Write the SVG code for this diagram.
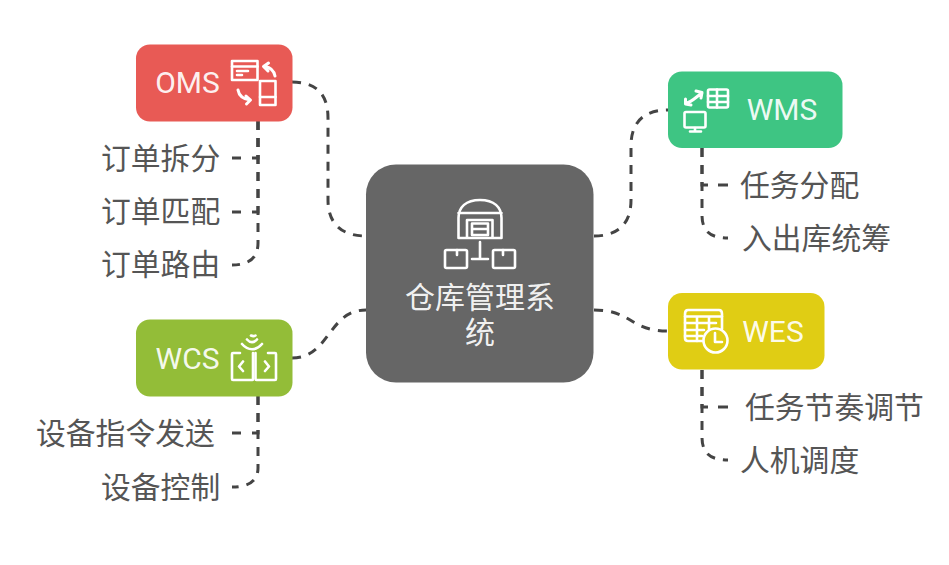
<svg xmlns="http://www.w3.org/2000/svg" width="949" height="565" viewBox="0 0 949 565">
<style>
.c{fill:none;stroke:#444;stroke-width:3;stroke-dasharray:9 8}
.i{fill:none;stroke:#fff;stroke-width:2.600;stroke-linejoin:round;stroke-linecap:round}
.t{font-family:"Noto Sans CJK SC","Noto Sans",sans-serif;font-size:29.800px;fill:#555}
.w{font-family:Roboto,"Noto Sans CJK SC",sans-serif;font-size:30px;fill:#fff;fill-opacity:.93;text-anchor:middle}
</style>
<rect width="949" height="565" fill="#fff"/>
<g id="connectors">
<path class="c" d="M292 82C316 82 328 94 328 118V200C328 224 342 236 366 236"/>
<path class="c" style="stroke-dasharray:9 8 9 8 9 11 9" d="M258 121V158H232"/>
<path class="c" style="stroke-dasharray:9 8 9 8 9 8 9 8 9 8 12 11 9" d="M258 121V212H232"/>
<path class="c" d="M258 121V243C258 257 250 265 232 265"/>
<path class="c" d="M594 236C618 236 631 224 631 200V146C631 122 644 110 668 110"/>
<path class="c" style="stroke-dasharray:9 8 9 8 9 10 10" d="M702 148V185H728"/>
<path class="c" d="M702 148V215C702 231 710 238 728 238"/>
<path class="c" d="M594 310C632 310 630 331 668 331"/>
<path class="c" style="stroke-dasharray:9 8 9 8 9 10 10" d="M702 370V407H728"/>
<path class="c" d="M702 370V437C702 453 710 460 728 460"/>
<path class="c" d="M292 358C330 358 328 310 366 310"/>
<path class="c" style="stroke-dasharray:9 8 9 8 9 11 9" d="M258 396V433H232"/>
<path class="c" d="M258 396V468C258 480 250 487 232 487"/>
</g>
<g id="center">
<rect x="366" y="164.500" width="227.500" height="218" rx="30" fill="#666"/>
<g class="i">
<path d="M458.500 238V218C458.500 207 466 200 480 200C494 200 501.500 207 501.500 218V238ZM458.500 213H501.500M467 238V220H492.500V238M472 223.500H488V235H472ZM472 229H488"/>
<rect x="445" y="250" width="22" height="18" rx="1.500"/><rect x="493" y="250" width="22" height="18" rx="1.500"/>
<path d="M457 250V255M503 250V255M480 242V259M472 259H488"/>
</g>
<text class="w" x="480" y="308">仓库管理系</text>
<text class="w" x="480" y="343">统</text>
</g>
<g id="oms">
<rect x="136" y="44.500" width="156.500" height="77" rx="14" fill="#e85a55"/>
<text class="w" x="187.500" y="93">OMS</text>
<g class="i">
<rect x="232" y="61" width="25.500" height="19"/>
<path d="M232 66.500H257.500M237 71H248M237 75H242"/>
<rect x="260" y="81" width="15.500" height="24"/>
<path d="M260 97H275.500"/>
<path d="M275 76C274 71 271 67.500 265 66.500M268.500 63L263.500 66.500L268 71" stroke-width="3"/>
<path d="M238 90C239 96 243 99 250 100M246 96L250.500 100L246.500 104" stroke-width="3"/>
</g>
</g>
<g id="wms">
<rect x="668" y="71.500" width="174.500" height="76.500" rx="14" fill="#3ec583"/>
<text class="w" x="782" y="119.500">WMS</text>
<g class="i">
<rect x="708" y="89.500" width="20" height="18" rx="1.500"/>
<path d="M708 96H728M708 102H728M717 89.500V107.500"/>
<rect x="684.500" y="112" width="21" height="15.500" rx="1.500"/>
<path d="M695 128V131M690 131.500H701"/>
<path d="M686 103C691 103 697 96 702 93M685.500 99L685.500 104L691 105M696 91L702 92.500L701 98" stroke-width="3"/>
</g>
</g>
<g id="wes">
<rect x="668" y="293" width="156.500" height="76.500" rx="14" fill="#e0cd14"/>
<text class="w" x="773" y="341.500">WES</text>
<g class="i">
<path d="M704 341H688C686 341 685 340 685 338V314C685 312 686 310 688 310H719C721 310 722 312 722 314V329"/>
<path d="M685 316.500H722M685 323H716M685 330H704M685 336H702M697 317V341M709 317V330"/>
<circle cx="715.500" cy="340.500" r="12" fill="#e0cd14"/>
<path d="M715 333V342H722"/>
</g>
</g>
<g id="wcs">
<rect x="136" y="319.500" width="156.500" height="77" rx="14" fill="#93bd38"/>
<text class="w" x="187.500" y="368.500">WCS</text>
<g class="i">
<path d="M240 353H233C232.500 353 232 353.500 232 354V379C232 379.500 232.500 380 233 380H252.500C253 380 253 379.500 253 379V353"/>
<path d="M255.500 353V379C255.500 379.500 256 380 256.500 380H275C275.500 380 276 379.500 276 379V354C276 353.500 275.500 353 275 353H268"/>
<path d="M243 361.500L239 366.500L243 371M265 361.500L269 366.500L265 371M242 344C248 351 256 351 262 344M247 339.500C250 343 254 343 257 339.500M251 335.500C253 336.500 254 336.500 255.500 335.500"/>
</g>
</g>
<g id="oms1"><text class="t" x="101" y="169.300">订单拆分</text></g>
<g id="oms2"><text class="t" x="101" y="222.300">订单匹配</text></g>
<g id="oms3"><text class="t" x="101" y="275.300">订单路由</text></g>
<g id="wms1"><text class="t" x="740" y="196">任务分配</text></g>
<g id="wms2"><text class="t" x="742" y="249">入出库统筹</text></g>
<g id="wes1"><text class="t" x="745" y="418">任务节奏调节</text></g>
<g id="wes2"><text class="t" x="740" y="471">人机调度</text></g>
<g id="wcs1"><text class="t" x="36" y="444.300">设备指令发送</text></g>
<g id="wcs2"><text class="t" x="101" y="497.800">设备控制</text></g>
</svg>
